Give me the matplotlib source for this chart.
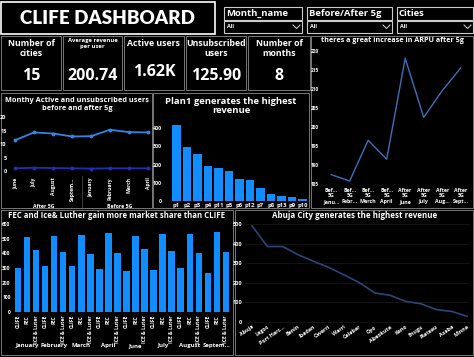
import matplotlib
matplotlib.use('Agg')
import matplotlib.pyplot as plt
from matplotlib.patches import Rectangle

plt.rcParams['font.family'] = ['Open Sans', 'DejaVu Sans']
plt.rcParams['font.weight'] = 'bold'

W, H = 474, 357
BLUE = '#118DFF'

# KPI cards
kpi_titles = ['Number of\ncities', 'Average revenue\nper user', 'Active users',
              'Unsubscribed\nusers', 'Number of\nmonths']
kpi_values = ['15', '200.74', '1.62K', '125.90', '8']

# slicers
slicer_names = ['Month_name', 'Before/After 5g', 'Cities']

# monthly active / unsubscribed
month_labels = ['June', 'July', 'August', 'Septem...', 'January', 'February', 'March', 'April']
active = [11.4, 14.3, 13.9, 12.8, 12.9, 15.3, 14.4, 14.3]
unsub = [1.0, 1.2, 1.1, 1.0, 0.9, 1.0, 1.0, 1.0]

# plans
plans = ['p1', 'p2', 'p3', 'p4', 'p11', 'p5', 'p6', 'p12', 'p7', 'p8', 'p13', 'p9', 'p10']
plan_rev = [415, 295, 260, 192, 183, 163, 120, 113, 70, 40, 30, 20, 10]

# ARPU
arpu_labels = ['Bef...\n5G\nJanu...', 'Bef...\n5G\nFebr...', 'Bef...\n5G\nMarch', 'Bef...\n5G\nApril',
               'After\n5G\nJune', 'After\n5G\nJuly', 'After\n5G\nAug...', 'After\n5G\nSept...']
arpu = [187.5, 185.8, 196.5, 191.5, 218.0, 202.5, 209.5, 215.5]

# market share
ms_months = ['January', 'February', 'March', 'April', 'June', 'July', 'August', 'Septem...']
ms_companies = ['CLIFE', 'FEC', 'ICE & Luter']
clife = [297, 311, 313, 290, 279, 286, 297, 268]
fec = [512, 519, 526, 540, 519, 531, 535, 549]
ice = [426, 407, 394, 403, 430, 416, 400, 410]

# cities
cities = ['Abuja', 'Lagos', 'Port Harc...', 'Benin', 'Ibadan', 'Owerri', 'Warri', 'Calabar',
          'Oyo', 'Abeokuta', 'Kano', 'Enugu', 'Plateau', 'Asaba', 'Minna']
city_rev = [490, 385, 385, 343, 310, 278, 240, 200, 148, 136, 105, 93, 63, 54, 29]

fig = plt.figure(figsize=(W / 100, H / 100), dpi=100, facecolor='black')


def add_ax(x0, y0, x1, y1):
    return fig.add_axes([x0 / W, 1 - y1 / H, (x1 - x0) / W, (y1 - y0) / H])


def style(ax):
    ax.set_facecolor('none')
    for s in ax.spines.values():
        s.set_visible(False)
    ax.tick_params(colors='white', length=0, labelsize=4.2)


# background canvas in pixel coords
bg = add_ax(0, 0, W, H)
bg.set_xlim(0, W)
bg.set_ylim(H, 0)
bg.axis('off')

edge = '#8a8a8a'
# title box
bg.add_patch(Rectangle((1, 2), 214, 32, fill=False, ec='white', lw=1.2))
bg.text(107, 19, 'CLIFE DASHBOARD', color='white', fontsize=13.5, fontweight='heavy',
        family=['Lato', 'Open Sans', 'DejaVu Sans'], ha='center', va='center')

# slicers
slicer_x = [224, 307, 397]
slicer_w = [78, 85, 76]
for x, w, name in zip(slicer_x, slicer_w, slicer_names):
    bg.add_patch(Rectangle((x, 7), w, 13, fill=False, ec='#cccccc', lw=0.8))
    bg.add_patch(Rectangle((x, 21), w, 12, fill=False, ec='#cccccc', lw=0.8))
    bg.text(x + 2, 13.5, name, color='white', fontsize=6.8, fontweight='bold', va='center')
    bg.text(x + 3, 27, 'All', color='white', fontsize=4, va='center')
    bg.plot([x + w - 9, x + w - 5.5, x + w - 2], [25, 28.5, 25], color='#dddddd', lw=0.7)

# KPI cards
card_x = [0, 62, 123, 185, 247, 311]
for i in range(5):
    bg.add_patch(Rectangle((card_x[i] + 1, 36), card_x[i + 1] - card_x[i] - 2, 54,
                           fill=False, ec=edge, lw=0.6))
    cx = (card_x[i] + card_x[i + 1]) / 2
    small = i == 1
    bg.text(cx, 38 if small else 39, kpi_titles[i], color='white',
            fontsize=4.2 if small else 6.3, fontweight='bold', ha='center', va='top',
            linespacing=1.3 if small else 1.1)
    bg.text(cx, 72 if i == 2 else 76, kpi_values[i], color='white', fontsize=11.5,
            fontweight='bold', ha='center', va='center')

# panel borders
for (x0, y0, x1, y1) in [(1, 93, 152, 208), (153, 93, 309, 208), (311, 36, 473, 208),
                         (1, 210, 233, 355), (235, 210, 473, 355)]:
    bg.add_patch(Rectangle((x0, y0), x1 - x0, y1 - y0, fill=False, ec=edge, lw=0.6))

# titles of charts
bg.text(77, 105, 'Monthy Active and unsubscribed users\nbefore and after 5g', color='white',
        fontsize=5.3, ha='center', va='center', linespacing=1.2)
bg.text(231, 106, 'Plan1 generates the highest\nrevenue', color='white',
        fontsize=6.8, ha='center', va='center', linespacing=1.1)
bg.text(392, 41, 'theres a great increase in ARPU after 5g', color='white',
        fontsize=5.2, ha='center', va='center')
bg.text(117, 216, 'FEC and Ice& Luther gain more market share than CLIFE', color='white',
        fontsize=5.6, ha='center', va='center')
bg.text(355, 216, 'Abuja City generates the highest revenue', color='white',
        fontsize=5.8, ha='center', va='center')

# monthly active / unsubscribed chart
ax1 = add_ax(8, 113, 152, 176)
style(ax1)
x1 = range(len(month_labels))
ax1.plot(x1, active, color='#2f86e6', lw=1.3, marker='o', ms=1.8)
ax1.plot(x1, unsub, color='#1f2fb5', lw=1.3, marker='o', ms=1.8)
ax1.set_xlim(-0.37, 7.21)
ax1.set_ylim(-1.85, 21.5)
ax1.set_yticks([0, 5, 10, 15, 20])
ax1.set_xticks(list(x1))
ax1.set_xticklabels(month_labels, rotation=90, fontsize=3.6)
ax1.tick_params(axis='y', labelsize=4, pad=1)
ax1.tick_params(axis='x', pad=1)
ax1.plot([3.5, 3.5], [-1.85, -14], color='#555555', lw=0.5, clip_on=False)
ax1.text(1.5, -13, 'After 5G', color='white', fontsize=3.8, ha='center', va='center')
ax1.text(5.5, -13, 'Before 5G', color='white', fontsize=3.8, ha='center', va='center')

# plan chart
ax2 = add_ax(163, 120, 309, 202)
style(ax2)
ax2.bar(range(len(plans)), plan_rev, width=0.79, color=BLUE)
ax2.set_xlim(-1.29, 12.62)
ax2.set_ylim(-5.5, 444)
ax2.set_yticks([0, 100, 200, 300, 400])
ax2.set_xticks(range(len(plans)))
ax2.set_xticklabels(plans, fontsize=4.2)
ax2.tick_params(axis='y', labelsize=3.8, pad=1)
ax2.tick_params(axis='x', pad=1)

# ARPU chart
ax3 = add_ax(320, 48, 470, 186)
style(ax3)
ax3.plot(range(len(arpu)), arpu, color='#3f6fb8', lw=1.0)
ax3.set_xlim(-0.6, 7.5)
ax3.set_ylim(184.5, 220.7)
ax3.set_yticks([185, 190, 195, 200, 205, 210, 215, 220])
ax3.set_xticks(range(len(arpu)))
ax3.set_xticklabels(arpu_labels, fontsize=3.8, linespacing=1.1)
ax3.tick_params(axis='y', labelsize=3.4, pad=1)
ax3.tick_params(axis='x', pad=1.5)

# market share chart
ax4 = add_ax(12, 222, 232, 313)
style(ax4)
vals = []
labels = []
for c, f, ic in zip(clife, fec, ice):
    vals += [c, f, ic]
    labels += ms_companies
ax4.bar(range(len(vals)), vals, width=0.72, color=BLUE)
ax4.set_xlim(-0.66, 23.67)
ax4.set_ylim(-9, 616)
ax4.set_yticks([0, 100, 200, 300, 400, 500, 600])
ax4.set_xticks(range(len(vals)))
ax4.set_xticklabels(labels, rotation=90, fontsize=3.6)
ax4.tick_params(axis='y', labelsize=3.6, pad=1)
ax4.tick_params(axis='x', pad=1.5)
for i, m in enumerate(ms_months):
    ax4.text(3 * i + 1, -230, m, color='white', fontsize=4.3, ha='center', va='center')

# city revenue chart
ax5 = add_ax(245, 222, 470, 323)
style(ax5)
ax5.plot(range(len(city_rev)), city_rev, color='#2a4777', lw=1.2)
ax5.set_xlim(-0.46, 14.19)
ax5.set_ylim(-5, 510)
ax5.set_yticks([0, 100, 200, 300, 400, 500])
ax5.set_xticks(range(len(cities)))
ax5.set_xticklabels(cities, rotation=35, ha='right', rotation_mode='anchor', fontsize=3.9)
ax5.tick_params(axis='y', labelsize=4, pad=2)
ax5.tick_params(axis='x', pad=1)
ax5.grid(axis='y', color='#1a1a1a', lw=0.5)

fig.savefig('out.png', dpi=100, facecolor='black')
